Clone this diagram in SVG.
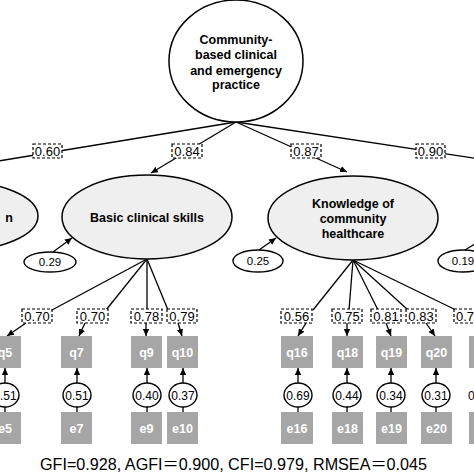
<svg xmlns="http://www.w3.org/2000/svg" width="474" height="474" viewBox="0 0 474 474">
<defs>
<marker id="ah" markerWidth="8" markerHeight="8" refX="7" refY="4" orient="auto" markerUnits="userSpaceOnUse">
<path d="M0,0.8 L7,4 L0,7.2 Z" fill="#000"/>
</marker>
<style>
.lat{fill:#efefef;stroke:#000;stroke-width:1.5}
.top{fill:#fff;stroke:#000;stroke-width:1.5}
.res{fill:#fff;stroke:#000;stroke-width:1.4}
.lbl{fill:#fff;stroke:#000;stroke-width:1.2;stroke-dasharray:3,2}
.obs{fill:#a6a6a6}
.ln{stroke:#000;stroke-width:1.3;fill:none}
.ar{stroke:#000;stroke-width:1.3;fill:none;marker-end:url(#ah)}
.tb{font-family:"Liberation Sans",Arial,sans-serif;font-weight:bold;font-size:12.5px;fill:#000;text-anchor:middle}
.tw{font-family:"Liberation Sans",Arial,sans-serif;font-weight:bold;font-size:12.5px;fill:#fff;text-anchor:middle}
.tn{font-family:"Liberation Sans",Arial,sans-serif;font-size:13px;fill:#000;text-anchor:middle}
.tc{font-family:"Liberation Sans",Arial,sans-serif;font-size:12px;fill:#000;text-anchor:middle}
.ts{font-family:"Liberation Sans",Arial,sans-serif;font-size:11.5px;fill:#000;text-anchor:middle}
</style>
</defs>
<rect width="474" height="474" fill="#fff"/>

<g id="connectors">
<line class="ar" x1="236" y1="122" x2="-20" y2="164"/>
<line class="ar" x1="236" y1="122" x2="151" y2="173"/>
<line class="ar" x1="236" y1="122" x2="347" y2="172"/>
<line class="ar" x1="236" y1="122" x2="520" y2="165"/>
<line class="ar" x1="53" y1="252" x2="72" y2="238"/>
<line class="ar" x1="259" y1="250" x2="276" y2="238"/>
<line class="ar" x1="465" y1="250" x2="485" y2="238"/>
<line class="ln" x1="147" y1="259" x2="52" y2="310"/>
<line class="ln" x1="147" y1="259" x2="106" y2="310"/>
<line class="ln" x1="147" y1="259" x2="147" y2="310"/>
<line class="ln" x1="147" y1="259" x2="168" y2="310"/>
<line class="ar" x1="26" y1="323" x2="7" y2="336"/>
<line class="ar" x1="85" y1="323" x2="79" y2="336"/>
<line class="ar" x1="146" y1="323" x2="146" y2="336"/>
<line class="ar" x1="178" y1="323" x2="182" y2="336"/>
<line class="ln" x1="353" y1="260" x2="313" y2="310"/>
<line class="ln" x1="353" y1="260" x2="349" y2="310"/>
<line class="ln" x1="353" y1="260" x2="378" y2="310"/>
<line class="ln" x1="353" y1="260" x2="408" y2="310"/>
<line class="ln" x1="353" y1="260" x2="456" y2="310"/>
<line class="ar" x1="306" y1="323" x2="298" y2="336"/>
<line class="ar" x1="347" y1="323" x2="347" y2="336"/>
<line class="ar" x1="386" y1="323" x2="391" y2="336"/>
<line class="ar" x1="426" y1="323" x2="435" y2="336"/>
<line class="ar" x1="5" y1="383" x2="5" y2="368"/>
<line class="ar" x1="77" y1="383" x2="77" y2="368"/>
<line class="ar" x1="147" y1="383" x2="147" y2="368"/>
<line class="ar" x1="183" y1="383" x2="183" y2="368"/>
<line class="ar" x1="298" y1="383" x2="298" y2="368"/>
<line class="ar" x1="347" y1="383" x2="347" y2="368"/>
<line class="ar" x1="391" y1="383" x2="391" y2="368"/>
<line class="ar" x1="436" y1="383" x2="436" y2="368"/>
<line class="ln" x1="5" y1="407" x2="5" y2="412"/>
<line class="ln" x1="77" y1="407" x2="77" y2="412"/>
<line class="ln" x1="147" y1="407" x2="147" y2="412"/>
<line class="ln" x1="183" y1="407" x2="183" y2="412"/>
<line class="ln" x1="298" y1="407" x2="298" y2="412"/>
<line class="ln" x1="347" y1="407" x2="347" y2="412"/>
<line class="ln" x1="391" y1="407" x2="391" y2="412"/>
<line class="ln" x1="436" y1="407" x2="436" y2="412"/>
</g>

<g id="top">
<ellipse class="top" cx="236" cy="61" rx="67" ry="61"/>
<text class="tb" x="236" y="44">Community-</text>
<text class="tb" x="236" y="59">based clinical</text>
<text class="tb" x="236" y="75">and emergency</text>
<text class="tb" x="236" y="89">practice</text>
</g>

<g id="w060"><rect class="lbl" x="33" y="144" width="29" height="14"/><text class="tn" x="47.5" y="155.8">0.60</text></g>
<g id="w084"><rect class="lbl" x="172" y="144" width="30" height="14"/><text class="tn" x="187" y="155.8">0.84</text></g>
<g id="w087"><rect class="lbl" x="291" y="144" width="30" height="14"/><text class="tn" x="306" y="155.8">0.87</text></g>
<g id="w090"><rect class="lbl" x="416" y="144" width="29" height="14"/><text class="tn" x="430.5" y="155.8">0.90</text></g>

<g id="lat-left">
<ellipse class="lat" cx="-45" cy="216" rx="83" ry="35"/>
<text class="tb" x="13" y="222" style="text-anchor:end">n</text>
</g>
<g id="lat-basic">
<ellipse class="lat" cx="147" cy="217" rx="85" ry="42"/>
<text class="tb" x="147" y="222">Basic clinical skills</text>
</g>
<g id="lat-know">
<ellipse class="lat" cx="353" cy="218" rx="85" ry="42"/>
<text class="tb" x="353" y="208">Knowledge of</text>
<text class="tb" x="353" y="223">community</text>
<text class="tb" x="353" y="238">healthcare</text>
</g>

<g id="r029"><ellipse class="res" cx="50" cy="262" rx="26" ry="10"/><text class="ts" x="50" y="266">0.29</text></g>
<g id="r025"><ellipse class="res" cx="258" cy="261" rx="25" ry="11"/><text class="ts" x="258" y="265">0.25</text></g>
<g id="r019"><ellipse class="res" cx="463" cy="261" rx="25" ry="11"/><text class="ts" x="463" y="265">0.19</text></g>

<g id="l-q5"><rect class="lbl" x="22" y="309" width="30" height="14"/><text class="tn" x="37" y="320.8">0.70</text></g>
<g id="l-q7"><rect class="lbl" x="77" y="309" width="31" height="14"/><text class="tn" x="92.5" y="320.8">0.70</text></g>
<g id="l-q9"><rect class="lbl" x="131" y="309" width="31" height="14"/><text class="tn" x="146.5" y="320.8">0.78</text></g>
<g id="l-q10"><rect class="lbl" x="167" y="309" width="30" height="14"/><text class="tn" x="182" y="320.8">0.79</text></g>
<g id="l-q16"><rect class="lbl" x="281" y="309" width="31" height="14"/><text class="tn" x="296.5" y="320.8">0.56</text></g>
<g id="l-q18"><rect class="lbl" x="332" y="309" width="30" height="14"/><text class="tn" x="347" y="320.8">0.75</text></g>
<g id="l-q19"><rect class="lbl" x="371" y="309" width="30" height="14"/><text class="tn" x="386" y="320.8">0.81</text></g>
<g id="l-q20"><rect class="lbl" x="406" y="309" width="30" height="14"/><text class="tn" x="421" y="320.8">0.83</text></g>
<g id="l-qr"><rect class="lbl" x="454" y="309" width="30" height="14"/><text class="tn" x="456" y="320.8" style="text-anchor:start">0.7</text></g>

<g id="q5"><rect class="obs" x="-10" y="336" width="31" height="32"/><text class="tw" x="5" y="357">q5</text></g>
<g id="q7"><rect class="obs" x="61" y="336" width="31" height="32"/><text class="tw" x="76.5" y="357">q7</text></g>
<g id="q9"><rect class="obs" x="131" y="336" width="31" height="32"/><text class="tw" x="146.5" y="357">q9</text></g>
<g id="q10"><rect class="obs" x="167" y="336" width="31" height="32"/><text class="tw" x="182.5" y="357">q10</text></g>
<g id="q16"><rect class="obs" x="281" y="336" width="32" height="32"/><text class="tw" x="297" y="357">q16</text></g>
<g id="q18"><rect class="obs" x="332" y="336" width="31" height="32"/><text class="tw" x="347.5" y="357">q18</text></g>
<g id="q19"><rect class="obs" x="376" y="336" width="31" height="32"/><text class="tw" x="391.5" y="357">q19</text></g>
<g id="q20"><rect class="obs" x="421" y="336" width="31" height="32"/><text class="tw" x="436.5" y="357">q20</text></g>
<g id="qr"><rect class="obs" x="469" y="336" width="31" height="32"/></g>

<g id="c5"><ellipse class="res" cx="5" cy="395" rx="14" ry="12"/><text class="tc" x="5" y="399.5">0.51</text></g>
<g id="c7"><ellipse class="res" cx="77" cy="395" rx="14" ry="12"/><text class="tc" x="77" y="399.5">0.51</text></g>
<g id="c9"><ellipse class="res" cx="147" cy="395" rx="14" ry="12"/><text class="tc" x="147" y="399.5">0.40</text></g>
<g id="c10"><ellipse class="res" cx="183" cy="395" rx="14" ry="12"/><text class="tc" x="183" y="399.5">0.37</text></g>
<g id="c16"><ellipse class="res" cx="298" cy="395" rx="14" ry="12"/><text class="tc" x="298" y="399.5">0.69</text></g>
<g id="c18"><ellipse class="res" cx="347" cy="395" rx="14" ry="12"/><text class="tc" x="347" y="399.5">0.44</text></g>
<g id="c19"><ellipse class="res" cx="391" cy="395" rx="14" ry="12"/><text class="tc" x="391" y="399.5">0.34</text></g>
<g id="c20"><ellipse class="res" cx="436" cy="395" rx="14" ry="12"/><text class="tc" x="436" y="399.5">0.31</text></g>
<g id="cr"><text class="tc" x="468" y="399.5" style="text-anchor:start">0</text></g>

<g id="e5"><rect class="obs" x="-10" y="412" width="31" height="32"/><text class="tw" x="5" y="433">e5</text></g>
<g id="e7"><rect class="obs" x="61" y="412" width="31" height="32"/><text class="tw" x="76.5" y="433">e7</text></g>
<g id="e9"><rect class="obs" x="131" y="412" width="31" height="32"/><text class="tw" x="146.5" y="433">e9</text></g>
<g id="e10"><rect class="obs" x="167" y="412" width="31" height="32"/><text class="tw" x="182.5" y="433">e10</text></g>
<g id="e16"><rect class="obs" x="281" y="412" width="32" height="32"/><text class="tw" x="297" y="433">e16</text></g>
<g id="e18"><rect class="obs" x="332" y="412" width="31" height="32"/><text class="tw" x="347.5" y="433">e18</text></g>
<g id="e19"><rect class="obs" x="376" y="412" width="31" height="32"/><text class="tw" x="391.5" y="433">e19</text></g>
<g id="e20"><rect class="obs" x="421" y="412" width="31" height="32"/><text class="tw" x="436.5" y="433">e20</text></g>
<g id="er"><rect class="obs" x="469" y="412" width="31" height="32"/></g>

<text x="40" y="470" textLength="387" lengthAdjust="spacingAndGlyphs" style="font-family:'Liberation Sans','Noto Sans CJK SC',sans-serif;font-size:16.5px;fill:#000">GFI=0.928, AGFI＝0.900, CFI=0.979, RMSEA＝0.045</text>
</svg>
